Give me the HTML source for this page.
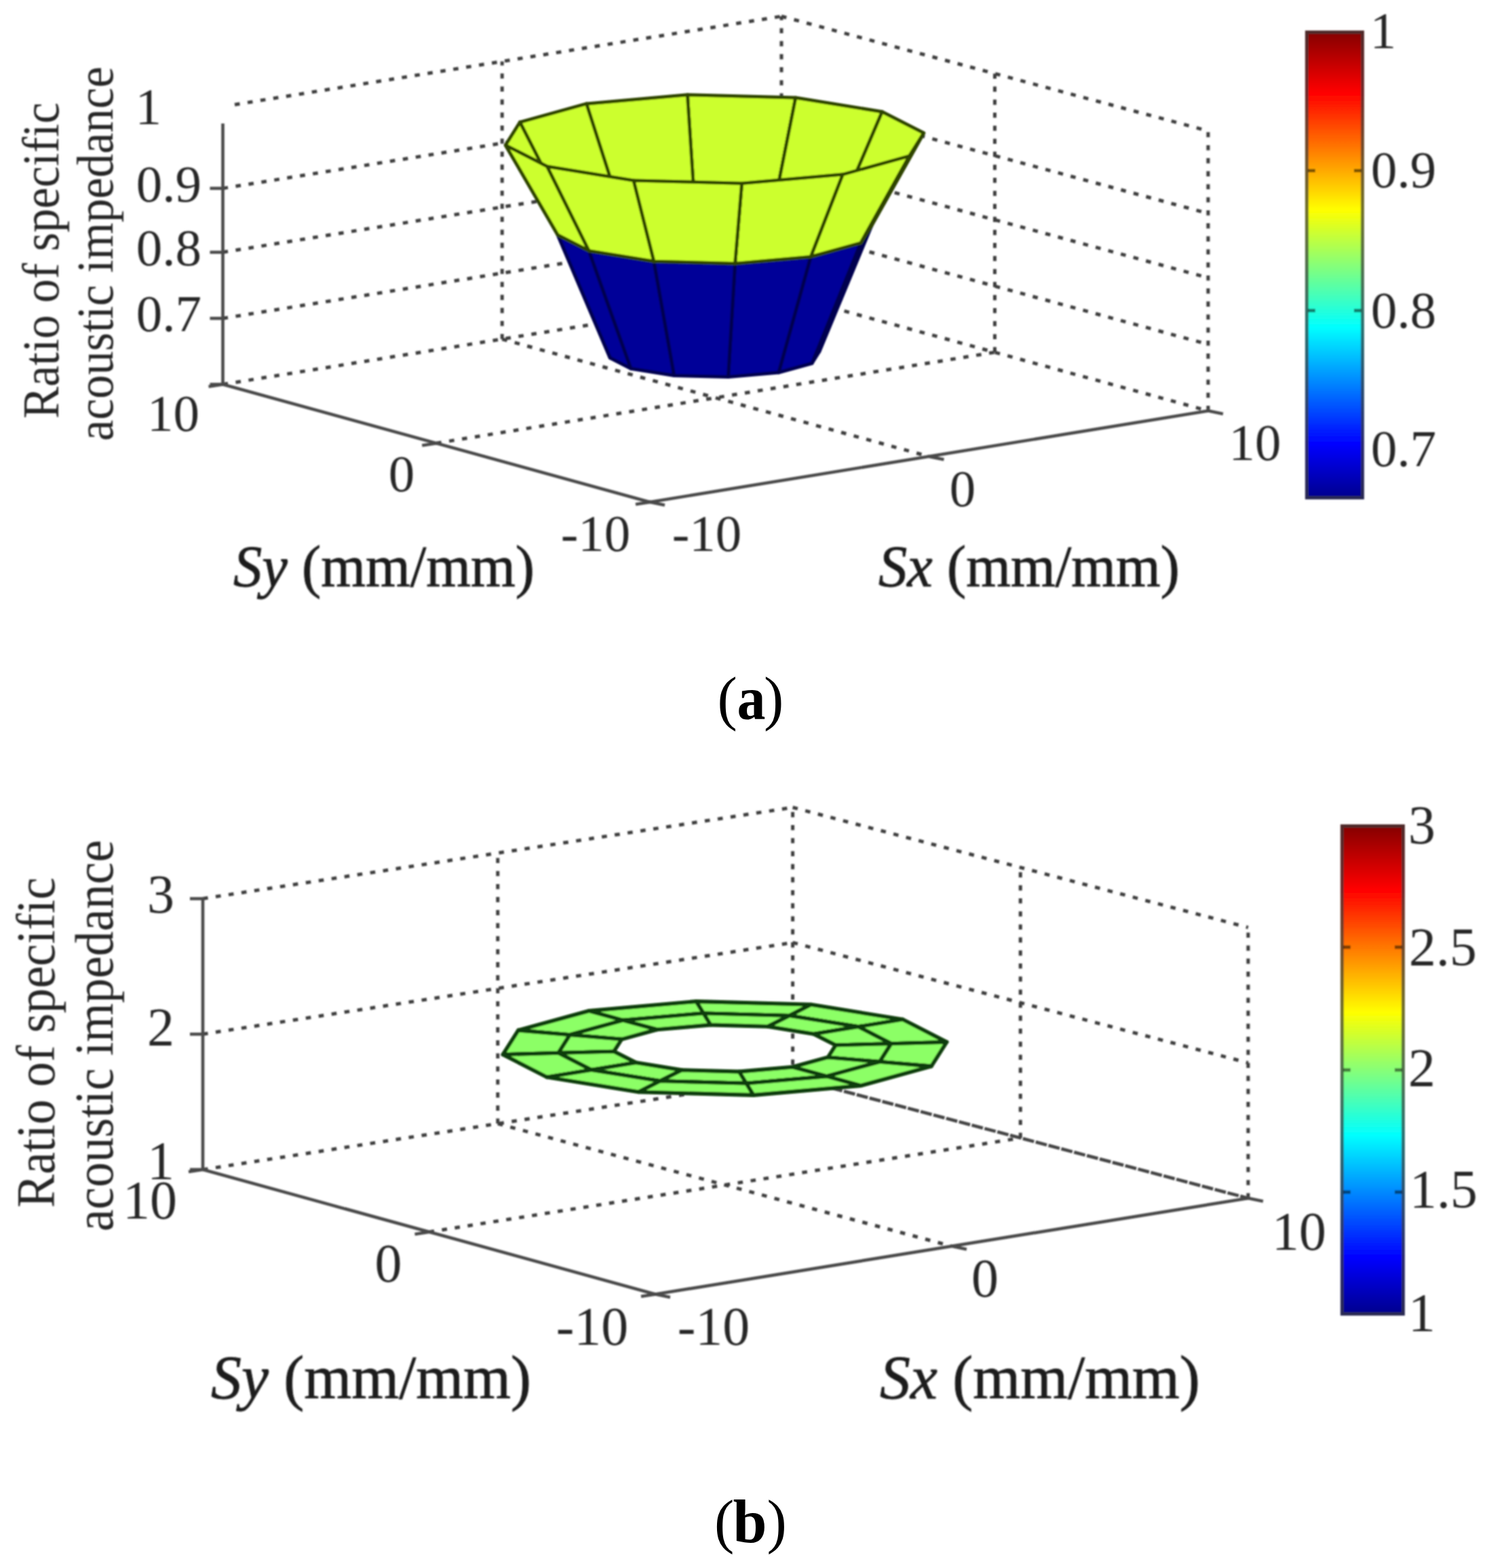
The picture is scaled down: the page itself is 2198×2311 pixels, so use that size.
<!DOCTYPE html>
<html lang="en"><head><meta charset="utf-8"><title>Ratio of specific acoustic impedance</title>
<style>
html,body{margin:0;padding:0;background:#fff;}
body{width:2198px;height:2311px;overflow:hidden;}
svg{display:block;}
.t{font-family:"Liberation Serif","DejaVu Serif",serif;fill:#262626;}
.tl{font-family:"Liberation Serif","DejaVu Serif",serif;fill:#1c1c1c;stroke:#1c1c1c;stroke-width:0.9;}
.c{font-family:"Liberation Serif","DejaVu Serif",serif;fill:#000;}
.ax{stroke:#484848;stroke-width:4.6;fill:none;stroke-linecap:butt;}
.gr{stroke:#3e3e3e;stroke-width:5;fill:none;stroke-dasharray:7.6 11.6;}
.gd{stroke:#444;stroke-width:4.8;fill:none;stroke-dasharray:17 2.5;}
</style></head><body>
<svg width="2198" height="2311" viewBox="0 0 2198 2311">
<defs>
<filter id="b1" x="-5%" y="-5%" width="110%" height="110%"><feGaussianBlur stdDeviation="1.25"/></filter>
<filter id="b2" x="-5%" y="-5%" width="110%" height="110%"><feGaussianBlur stdDeviation="0.9"/></filter>
</defs>
<rect width="2198" height="2311" fill="#fff"/>

<g filter="url(#b1)">
<line x1="328.5" y1="566.5" x2="1152.0" y2="433.0" class="gr" />
<line x1="1152.0" y1="433.0" x2="1781.0" y2="605.5" class="gr" />
<line x1="740.2" y1="499.8" x2="1369.5" y2="672.8" class="gr" />
<line x1="643.2" y1="653.2" x2="1466.5" y2="519.2" class="gr" />
<line x1="740.2" y1="499.8" x2="740.2" y2="90.5" class="gr" />
<line x1="1152.0" y1="433.0" x2="1152.0" y2="24.0" class="gr" />
<line x1="1466.5" y1="519.2" x2="1466.5" y2="108.5" class="gr" />
<line x1="1781.0" y1="605.5" x2="1781.0" y2="193.0" class="gr" />
<line x1="346.0" y1="154.2" x2="1152.0" y2="24.0" class="gr" />
<line x1="1152.0" y1="24.0" x2="1781.0" y2="193.0" class="gr" />
<line x1="328.5" y1="469.2" x2="1152.0" y2="335.9" class="gr" />
<line x1="1152.0" y1="335.9" x2="1781.0" y2="507.5" class="gr" />
<line x1="328.5" y1="371.8" x2="1152.0" y2="238.5" class="gr" />
<line x1="1152.0" y1="238.5" x2="1781.0" y2="409.4" class="gr" />
<line x1="328.5" y1="277.6" x2="1152.0" y2="144.5" class="gr" />
<line x1="1152.0" y1="144.5" x2="1781.0" y2="314.5" class="gr" />
<polygon points="1143.0,293.8 1023.4,290.6 1013.4,139.7 1172.9,144.0" fill="#ccff2e" stroke="#2f4400" stroke-width="5.0" stroke-linejoin="round"/>
<polygon points="1023.4,290.6 911.9,300.5 864.6,152.9 1013.4,139.7" fill="#ccff2e" stroke="#2f4400" stroke-width="5.0" stroke-linejoin="round"/>
<polygon points="1238.7,309.2 1143.0,293.8 1172.9,144.0 1300.4,164.7" fill="#ccff2e" stroke="#2f4400" stroke-width="5.0" stroke-linejoin="round"/>
<polygon points="1113.2,492.5 1033.5,490.4 1023.4,290.6 1143.0,293.8" fill="#000098" stroke="#000050" stroke-width="5.0" stroke-linejoin="round"/>
<polygon points="1033.5,490.4 959.1,497.0 911.9,300.5 1023.4,290.6" fill="#000098" stroke="#000050" stroke-width="5.0" stroke-linejoin="round"/>
<polygon points="911.9,300.5 838.3,320.8 766.5,180.1 864.6,152.9" fill="#ccff2e" stroke="#2f4400" stroke-width="5.0" stroke-linejoin="round"/>
<polygon points="1177.0,502.8 1113.2,492.5 1143.0,293.8 1238.7,309.2" fill="#000098" stroke="#000050" stroke-width="5.0" stroke-linejoin="round"/>
<polygon points="959.1,497.0 910.0,510.5 838.3,320.8 911.9,300.5" fill="#000098" stroke="#000050" stroke-width="5.0" stroke-linejoin="round"/>
<polygon points="1284.7,332.8 1238.7,309.2 1300.4,164.7 1361.7,196.1" fill="#ccff2e" stroke="#2f4400" stroke-width="5.0" stroke-linejoin="round"/>
<polygon points="1207.6,518.5 1177.0,502.8 1238.7,309.2 1284.7,332.8" fill="#000098" stroke="#000050" stroke-width="5.0" stroke-linejoin="round"/>
<polygon points="838.3,320.8 822.3,346.2 745.3,213.9 766.5,180.1" fill="#ccff2e" stroke="#2f4400" stroke-width="5.0" stroke-linejoin="round"/>
<polygon points="910.0,510.5 899.4,527.5 822.3,346.2 838.3,320.8" fill="#000098" stroke="#000050" stroke-width="5.0" stroke-linejoin="round"/>
<polygon points="1197.0,535.5 1207.6,518.5 1284.7,332.8 1268.7,358.2" fill="#000098" stroke="#000050" stroke-width="5.0" stroke-linejoin="round"/>
<polygon points="1268.7,358.2 1284.7,332.8 1361.7,196.1 1340.5,229.9" fill="#ccff2e" stroke="#2f4400" stroke-width="5.0" stroke-linejoin="round"/>
<polygon points="899.4,527.5 930.0,543.2 868.3,369.8 822.3,346.2" fill="#000098" stroke="#000050" stroke-width="5.0" stroke-linejoin="round"/>
<polygon points="822.3,346.2 868.3,369.8 806.6,245.3 745.3,213.9" fill="#ccff2e" stroke="#2f4400" stroke-width="5.0" stroke-linejoin="round"/>
<polygon points="1147.9,549.0 1197.0,535.5 1268.7,358.2 1195.1,378.5" fill="#000098" stroke="#000050" stroke-width="5.0" stroke-linejoin="round"/>
<polygon points="930.0,543.2 993.8,553.5 964.0,385.2 868.3,369.8" fill="#000098" stroke="#000050" stroke-width="5.0" stroke-linejoin="round"/>
<polygon points="1195.1,378.5 1268.7,358.2 1340.5,229.9 1242.3,257.1" fill="#ccff2e" stroke="#2f4400" stroke-width="5.0" stroke-linejoin="round"/>
<polygon points="1073.5,555.6 1147.9,549.0 1195.1,378.5 1083.6,388.4" fill="#000098" stroke="#000050" stroke-width="5.0" stroke-linejoin="round"/>
<polygon points="993.8,553.5 1073.5,555.6 1083.6,388.4 964.0,385.2" fill="#000098" stroke="#000050" stroke-width="5.0" stroke-linejoin="round"/>
<polygon points="868.3,369.8 964.0,385.2 934.1,266.0 806.6,245.3" fill="#ccff2e" stroke="#2f4400" stroke-width="5.0" stroke-linejoin="round"/>
<polygon points="1083.6,388.4 1195.1,378.5 1242.3,257.1 1093.6,270.3" fill="#ccff2e" stroke="#2f4400" stroke-width="5.0" stroke-linejoin="round"/>
<polygon points="964.0,385.2 1083.6,388.4 1093.6,270.3 934.1,266.0" fill="#ccff2e" stroke="#2f4400" stroke-width="5.0" stroke-linejoin="round"/>
<line x1="328.5" y1="182.0" x2="328.5" y2="566.5" class="ax" />
<line x1="328.5" y1="566.5" x2="958.0" y2="740.0" class="ax" />
<line x1="958.0" y1="740.0" x2="1781.0" y2="605.5" class="ax" />
<line x1="309.5" y1="566.5" x2="330.5" y2="566.5" class="ax" />
<line x1="309.5" y1="469.2" x2="330.5" y2="469.2" class="ax" />
<line x1="309.5" y1="371.8" x2="330.5" y2="371.8" class="ax" />
<line x1="309.5" y1="277.6" x2="330.5" y2="277.6" class="ax" />
<line x1="960.0" y1="739.7" x2="937.0" y2="743.2" class="ax" />
<line x1="956.0" y1="739.6" x2="980.0" y2="744.5" class="ax" />
<line x1="645.2" y1="653.0" x2="622.2" y2="656.5" class="ax" />
<line x1="1367.5" y1="672.4" x2="1391.5" y2="677.2" class="ax" />
<line x1="330.5" y1="566.2" x2="307.5" y2="569.7" class="ax" />
<line x1="1779.0" y1="605.1" x2="1803.0" y2="610.0" class="ax" />
</g>
<g filter="url(#b1)">
<line x1="299.0" y1="1723.8" x2="1168.6" y2="1588.4" class="gr" />
<line x1="1168.6" y1="1588.4" x2="1840.0" y2="1766.0" class="gd" />
<line x1="733.8" y1="1656.1" x2="1403.0" y2="1836.8" class="gr" />
<line x1="632.5" y1="1815.7" x2="1504.3" y2="1677.2" class="gr" />
<line x1="733.8" y1="1656.1" x2="733.8" y2="1257.2" class="gr" />
<line x1="1168.6" y1="1588.4" x2="1168.6" y2="1190.0" class="gr" />
<line x1="1504.3" y1="1677.2" x2="1504.3" y2="1278.5" class="gr" />
<line x1="1840.0" y1="1766.0" x2="1840.0" y2="1367.0" class="gr" />
<line x1="299.0" y1="1324.5" x2="1168.6" y2="1190.0" class="gr" />
<line x1="1168.6" y1="1190.0" x2="1840.0" y2="1367.0" class="gr" />
<line x1="299.0" y1="1524.2" x2="1168.6" y2="1389.2" class="gr" />
<line x1="1168.6" y1="1389.2" x2="1840.0" y2="1566.5" class="gr" />
<polygon points="1163.8,1496.8 1036.9,1493.3 1026.3,1476.0 1195.5,1480.7" fill="#8cff66" stroke="#0b3c07" stroke-width="5.8" stroke-linejoin="round"/>
<polygon points="1036.9,1493.3 918.4,1503.7 868.4,1489.9 1026.3,1476.0" fill="#8cff66" stroke="#0b3c07" stroke-width="5.8" stroke-linejoin="round"/>
<polygon points="1265.2,1513.2 1163.8,1496.8 1195.5,1480.7 1330.7,1502.5" fill="#8cff66" stroke="#0b3c07" stroke-width="5.8" stroke-linejoin="round"/>
<polygon points="1132.0,1512.8 1047.4,1510.5 1036.9,1493.3 1163.8,1496.8" fill="#8cff66" stroke="#0b3c07" stroke-width="5.8" stroke-linejoin="round"/>
<polygon points="1047.4,1510.5 968.5,1517.4 918.4,1503.7 1036.9,1493.3" fill="#8cff66" stroke="#0b3c07" stroke-width="5.8" stroke-linejoin="round"/>
<polygon points="918.4,1503.7 840.2,1525.1 764.1,1518.5 868.4,1489.9" fill="#8cff66" stroke="#0b3c07" stroke-width="5.8" stroke-linejoin="round"/>
<polygon points="1199.6,1523.8 1132.0,1512.8 1163.8,1496.8 1265.2,1513.2" fill="#8cff66" stroke="#0b3c07" stroke-width="5.8" stroke-linejoin="round"/>
<polygon points="968.5,1517.4 916.3,1531.7 840.2,1525.1 918.4,1503.7" fill="#8cff66" stroke="#0b3c07" stroke-width="5.8" stroke-linejoin="round"/>
<polygon points="1313.8,1538.1 1265.2,1513.2 1330.7,1502.5 1395.6,1535.8" fill="#8cff66" stroke="#0b3c07" stroke-width="5.8" stroke-linejoin="round"/>
<polygon points="1232.1,1540.4 1199.6,1523.8 1265.2,1513.2 1313.8,1538.1" fill="#8cff66" stroke="#0b3c07" stroke-width="5.8" stroke-linejoin="round"/>
<polygon points="840.2,1525.1 823.2,1551.9 741.4,1554.2 764.1,1518.5" fill="#8cff66" stroke="#0b3c07" stroke-width="5.8" stroke-linejoin="round"/>
<polygon points="916.3,1531.7 904.9,1549.6 823.2,1551.9 840.2,1525.1" fill="#8cff66" stroke="#0b3c07" stroke-width="5.8" stroke-linejoin="round"/>
<polygon points="1220.7,1558.3 1232.1,1540.4 1313.8,1538.1 1296.8,1564.9" fill="#8cff66" stroke="#0b3c07" stroke-width="5.8" stroke-linejoin="round"/>
<polygon points="1296.8,1564.9 1313.8,1538.1 1395.6,1535.8 1372.9,1571.5" fill="#8cff66" stroke="#0b3c07" stroke-width="5.8" stroke-linejoin="round"/>
<polygon points="904.9,1549.6 937.4,1566.2 871.8,1576.8 823.2,1551.9" fill="#8cff66" stroke="#0b3c07" stroke-width="5.8" stroke-linejoin="round"/>
<polygon points="823.2,1551.9 871.8,1576.8 806.3,1587.5 741.4,1554.2" fill="#8cff66" stroke="#0b3c07" stroke-width="5.8" stroke-linejoin="round"/>
<polygon points="1168.5,1572.6 1220.7,1558.3 1296.8,1564.9 1218.6,1586.3" fill="#8cff66" stroke="#0b3c07" stroke-width="5.8" stroke-linejoin="round"/>
<polygon points="937.4,1566.2 1005.0,1577.2 973.2,1593.2 871.8,1576.8" fill="#8cff66" stroke="#0b3c07" stroke-width="5.8" stroke-linejoin="round"/>
<polygon points="1218.6,1586.3 1296.8,1564.9 1372.9,1571.5 1268.6,1600.1" fill="#8cff66" stroke="#0b3c07" stroke-width="5.8" stroke-linejoin="round"/>
<polygon points="1089.6,1579.5 1168.5,1572.6 1218.6,1586.3 1100.1,1596.7" fill="#8cff66" stroke="#0b3c07" stroke-width="5.8" stroke-linejoin="round"/>
<polygon points="1005.0,1577.2 1089.6,1579.5 1100.1,1596.7 973.2,1593.2" fill="#8cff66" stroke="#0b3c07" stroke-width="5.8" stroke-linejoin="round"/>
<polygon points="871.8,1576.8 973.2,1593.2 941.5,1609.3 806.3,1587.5" fill="#8cff66" stroke="#0b3c07" stroke-width="5.8" stroke-linejoin="round"/>
<polygon points="1100.1,1596.7 1218.6,1586.3 1268.6,1600.1 1110.7,1614.0" fill="#8cff66" stroke="#0b3c07" stroke-width="5.8" stroke-linejoin="round"/>
<polygon points="973.2,1593.2 1100.1,1596.7 1110.7,1614.0 941.5,1609.3" fill="#8cff66" stroke="#0b3c07" stroke-width="5.8" stroke-linejoin="round"/>
<line x1="299.0" y1="1324.5" x2="299.0" y2="1723.8" class="ax" />
<line x1="299.0" y1="1723.8" x2="966.0" y2="1907.5" class="ax" />
<line x1="966.0" y1="1907.5" x2="1840.0" y2="1766.0" class="ax" />
<line x1="280.0" y1="1723.8" x2="301.0" y2="1723.8" class="ax" />
<line x1="280.0" y1="1524.2" x2="301.0" y2="1524.2" class="ax" />
<line x1="280.0" y1="1324.5" x2="301.0" y2="1324.5" class="ax" />
<line x1="968.0" y1="1907.2" x2="945.0" y2="1910.7" class="ax" />
<line x1="964.0" y1="1907.1" x2="988.0" y2="1912.0" class="ax" />
<line x1="634.5" y1="1815.4" x2="611.5" y2="1818.9" class="ax" />
<line x1="1401.0" y1="1836.3" x2="1425.0" y2="1841.2" class="ax" />
<line x1="301.0" y1="1723.5" x2="278.0" y2="1727.0" class="ax" />
<line x1="1838.0" y1="1765.6" x2="1862.0" y2="1770.5" class="ax" />
</g>
<g filter="url(#b1)">
<linearGradient id="jet1" x1="0" y1="1" x2="0" y2="0">
<stop offset="0" stop-color="rgb(0,0,138)"/>
<stop offset="0.1172" stop-color="rgb(0,0,255)"/>
<stop offset="0.3672" stop-color="rgb(0,255,255)"/>
<stop offset="0.6172" stop-color="rgb(255,255,0)"/>
<stop offset="0.8672" stop-color="rgb(255,0,0)"/>
<stop offset="1" stop-color="rgb(130,0,0)"/>
</linearGradient>
<rect x="1924" y="45" width="87" height="691" fill="url(#jet1)"/>
<rect x="1926.5" y="47.5" width="82" height="686" fill="none" stroke="#3c3c3c" stroke-opacity="0.72" stroke-width="5"/>
<line x1="1928" y1="251.5" x2="1939" y2="251.5" stroke="#000" stroke-opacity="0.5" stroke-width="5"/>
<line x1="1996" y1="251.5" x2="2007" y2="251.5" stroke="#000" stroke-opacity="0.5" stroke-width="5"/>
<line x1="1928" y1="457.7" x2="1939" y2="457.7" stroke="#000" stroke-opacity="0.5" stroke-width="5"/>
<line x1="1996" y1="457.7" x2="2007" y2="457.7" stroke="#000" stroke-opacity="0.5" stroke-width="5"/>
<linearGradient id="jet2" x1="0" y1="1" x2="0" y2="0">
<stop offset="0" stop-color="rgb(0,0,138)"/>
<stop offset="0.1172" stop-color="rgb(0,0,255)"/>
<stop offset="0.3672" stop-color="rgb(0,255,255)"/>
<stop offset="0.6172" stop-color="rgb(255,255,0)"/>
<stop offset="0.8672" stop-color="rgb(255,0,0)"/>
<stop offset="1" stop-color="rgb(130,0,0)"/>
</linearGradient>
<rect x="1976" y="1215" width="95" height="724" fill="url(#jet2)"/>
<rect x="1978.5" y="1217.5" width="90" height="719" fill="none" stroke="#3c3c3c" stroke-opacity="0.72" stroke-width="5"/>
<line x1="1980" y1="1396" x2="1991" y2="1396" stroke="#000" stroke-opacity="0.5" stroke-width="5"/>
<line x1="2056" y1="1396" x2="2067" y2="1396" stroke="#000" stroke-opacity="0.5" stroke-width="5"/>
<line x1="1980" y1="1577" x2="1991" y2="1577" stroke="#000" stroke-opacity="0.5" stroke-width="5"/>
<line x1="2056" y1="1577" x2="2067" y2="1577" stroke="#000" stroke-opacity="0.5" stroke-width="5"/>
<line x1="1980" y1="1757" x2="1991" y2="1757" stroke="#000" stroke-opacity="0.5" stroke-width="5"/>
<line x1="2056" y1="1757" x2="2067" y2="1757" stroke="#000" stroke-opacity="0.5" stroke-width="5"/>
</g>
<g filter="url(#b2)">
<text x="238.0" y="183.0" font-size="77" text-anchor="end" class="t" >1</text>
<text x="297.0" y="296.5" font-size="77" text-anchor="end" class="t" >0.9</text>
<text x="297.0" y="390.5" font-size="77" text-anchor="end" class="t" >0.8</text>
<text x="297.0" y="487.5" font-size="77" text-anchor="end" class="t" >0.7</text>
<text x="294.0" y="635.0" font-size="77" text-anchor="end" class="t" >10</text>
<text x="592.0" y="724.0" font-size="77" text-anchor="middle" class="t" >0</text>
<text x="878.0" y="812.0" font-size="77" text-anchor="middle" class="t" >-10</text>
<text x="1042.0" y="812.0" font-size="77" text-anchor="middle" class="t" >-10</text>
<text x="1419.0" y="746.0" font-size="77" text-anchor="middle" class="t" >0</text>
<text x="1850.0" y="678.0" font-size="77" text-anchor="middle" class="t" >10</text>
<text x="2039.0" y="71.0" font-size="77" text-anchor="middle" class="t" >1</text>
<text x="2021.0" y="275.5" font-size="77" text-anchor="start" class="t" >0.9</text>
<text x="2021.0" y="483.0" font-size="77" text-anchor="start" class="t" >0.8</text>
<text x="2021.0" y="686.5" font-size="77" text-anchor="start" class="t" >0.7</text>
<text transform="translate(86.0,617.0) rotate(-90)" font-size="77" class="t" textLength="466.0" lengthAdjust="spacingAndGlyphs">Ratio of specific</text>
<text transform="translate(166.0,650.0) rotate(-90)" font-size="77" class="t" textLength="552.0" lengthAdjust="spacingAndGlyphs">acoustic impedance</text>
<text x="344" y="864" font-size="86.5" class="tl" textLength="444" lengthAdjust="spacingAndGlyphs"><tspan font-style="italic">Sy</tspan> (mm/mm)</text>
<text x="1295" y="864" font-size="86.5" class="tl" textLength="444" lengthAdjust="spacingAndGlyphs"><tspan font-style="italic">Sx</tspan> (mm/mm)</text>
<text x="237.0" y="1345.0" font-size="80" text-anchor="middle" class="t" >3</text>
<text x="237.0" y="1541.0" font-size="80" text-anchor="middle" class="t" >2</text>
<text x="237.0" y="1738.0" font-size="80" text-anchor="middle" class="t" >1</text>
<text x="221.0" y="1796.0" font-size="80" text-anchor="middle" class="t" >10</text>
<text x="572.5" y="1889.0" font-size="80" text-anchor="middle" class="t" >0</text>
<text x="873.0" y="1982.0" font-size="80" text-anchor="middle" class="t" >-10</text>
<text x="1052.0" y="1982.0" font-size="80" text-anchor="middle" class="t" >-10</text>
<text x="1452.0" y="1911.0" font-size="80" text-anchor="middle" class="t" >0</text>
<text x="1915.0" y="1842.0" font-size="80" text-anchor="middle" class="t" >10</text>
<text x="2096.0" y="1243.0" font-size="80" text-anchor="middle" class="t" >3</text>
<text x="2077.0" y="1422.5" font-size="80" text-anchor="start" class="t" >2.5</text>
<text x="2096.0" y="1601.0" font-size="80" text-anchor="middle" class="t" >2</text>
<text x="2078.0" y="1780.0" font-size="80" text-anchor="start" class="t" >1.5</text>
<text x="2096.0" y="1962.0" font-size="80" text-anchor="middle" class="t" >1</text>
<text transform="translate(80.0,1780.0) rotate(-90)" font-size="80" class="t" textLength="487.0" lengthAdjust="spacingAndGlyphs">Ratio of specific</text>
<text transform="translate(166.0,1815.0) rotate(-90)" font-size="80" class="t" textLength="577.0" lengthAdjust="spacingAndGlyphs">acoustic impedance</text>
<text x="311" y="2061" font-size="92" class="tl" textLength="472" lengthAdjust="spacingAndGlyphs"><tspan font-style="italic">Sy</tspan> (mm/mm)</text>
<text x="1297" y="2061" font-size="92" class="tl" textLength="472" lengthAdjust="spacingAndGlyphs"><tspan font-style="italic">Sx</tspan> (mm/mm)</text>
</g>
<g class="cap">
<text class="c"><tspan x="1057.6" y="1059" font-size="88">(</tspan><tspan x="1086.5" y="1059.7" font-size="92" font-weight="bold" textLength="42" lengthAdjust="spacingAndGlyphs">a</tspan><tspan x="1126" y="1059" font-size="88">)</tspan></text>
<text class="c"><tspan x="1052.9" y="2272" font-size="88">(</tspan><tspan x="1080.5" y="2272.6" font-size="92" font-weight="bold" textLength="50" lengthAdjust="spacingAndGlyphs">b</tspan><tspan x="1130.5" y="2272" font-size="88">)</tspan></text>
</g>
</svg></body></html>
